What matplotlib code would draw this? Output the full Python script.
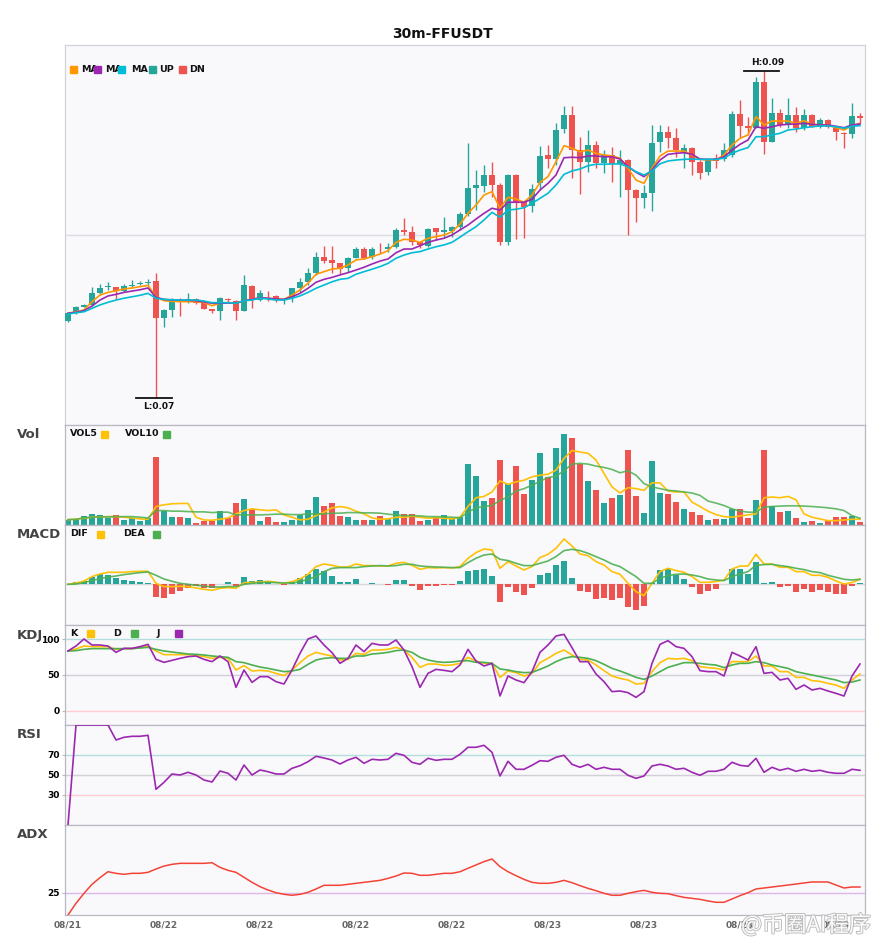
import matplotlib
matplotlib.use("Agg")
import matplotlib.pyplot as plt
import matplotlib.patheffects as pe
from matplotlib.patches import Rectangle
import numpy as np

# ---- data (30m candles) ----
opens = [0.07472, 0.07526, 0.07561, 0.07571, 0.07647, 0.07684, 0.07681, 0.07658, 0.07690, 0.07699,
         0.07707, 0.07718, 0.07493, 0.07540, 0.07604, 0.07601, 0.07605, 0.07585, 0.07544, 0.07536,
         0.07607, 0.07597, 0.07534, 0.07689, 0.07601, 0.07641, 0.07626, 0.07601, 0.07618, 0.07677,
         0.07712, 0.07769, 0.07867, 0.07847, 0.07826, 0.07799, 0.07861, 0.07914, 0.07867, 0.07916,
         0.07914, 0.07928, 0.08031, 0.08020, 0.07955, 0.07934, 0.08041, 0.08021, 0.08025, 0.08051,
         0.08129, 0.08290, 0.08302, 0.08368, 0.08307, 0.07959, 0.08368, 0.08201, 0.08178, 0.08317,
         0.08491, 0.08466, 0.08650, 0.08736, 0.08521, 0.08450, 0.08552, 0.08444, 0.08491, 0.08434,
         0.08460, 0.08276, 0.08229, 0.08260, 0.08572, 0.08632, 0.08593, 0.08511, 0.08532, 0.08450,
         0.08385, 0.08471, 0.08466, 0.08491, 0.08741, 0.08671, 0.08658, 0.08941, 0.08572, 0.08747,
         0.08675, 0.08736, 0.08655, 0.08736, 0.08664, 0.08706, 0.08658, 0.08628, 0.08620, 0.08730]
highs = [0.07529, 0.07566, 0.07574, 0.07681, 0.07699, 0.07712, 0.07684, 0.07699, 0.07727, 0.07720,
         0.07730, 0.07765, 0.07546, 0.07612, 0.07613, 0.07644, 0.07612, 0.07589, 0.07549, 0.07621,
         0.07613, 0.07601, 0.07755, 0.07693, 0.07663, 0.07656, 0.07632, 0.07615, 0.07677, 0.07738,
         0.07796, 0.07898, 0.07933, 0.07933, 0.07831, 0.07867, 0.07928, 0.07928, 0.07928, 0.07949,
         0.07949, 0.08041, 0.08106, 0.08057, 0.07959, 0.08045, 0.08045, 0.08112, 0.08055, 0.08143,
         0.08566, 0.08399, 0.08429, 0.08450, 0.08317, 0.08372, 0.08374, 0.08209, 0.08311, 0.08546,
         0.08552, 0.08685, 0.08791, 0.08791, 0.08603, 0.08644, 0.08577, 0.08521, 0.08542, 0.08521,
         0.08466, 0.08282, 0.08307, 0.08675, 0.08675, 0.08669, 0.08655, 0.08556, 0.08542, 0.08460,
         0.08474, 0.08495, 0.08563, 0.08761, 0.08828, 0.08726, 0.08971, 0.09006, 0.08839, 0.08771,
         0.08842, 0.08787, 0.08773, 0.08742, 0.08716, 0.08710, 0.08664, 0.08632, 0.08808, 0.08747]
lows = [0.07466, 0.07515, 0.07558, 0.07564, 0.07632, 0.07663, 0.07607, 0.07652, 0.07672, 0.07691,
        0.07695, 0.07000, 0.07436, 0.07499, 0.07503, 0.07581, 0.07578, 0.07544, 0.07523, 0.07479,
        0.07581, 0.07479, 0.07531, 0.07550, 0.07595, 0.07595, 0.07591, 0.07578, 0.07591, 0.07652,
        0.07693, 0.07755, 0.07830, 0.07769, 0.07759, 0.07775, 0.07857, 0.07853, 0.07853, 0.07888,
        0.07898, 0.07918, 0.08000, 0.07939, 0.07918, 0.07928, 0.07969, 0.07990, 0.07990, 0.08031,
        0.08117, 0.08153, 0.08266, 0.08235, 0.07939, 0.07939, 0.07975, 0.07982, 0.08143, 0.08276,
        0.08409, 0.08429, 0.08624, 0.08348, 0.08252, 0.08388, 0.08413, 0.08382, 0.08327, 0.08235,
        0.08000, 0.08082, 0.08164, 0.08147, 0.08511, 0.08534, 0.08480, 0.08409, 0.08368, 0.08344,
        0.08368, 0.08409, 0.08454, 0.08480, 0.08603, 0.08614, 0.08655, 0.08495, 0.08569, 0.08663,
        0.08658, 0.08630, 0.08644, 0.08661, 0.08658, 0.08658, 0.08583, 0.08536, 0.08597, 0.08685]
closes = [0.07521, 0.07558, 0.07569, 0.07646, 0.07675, 0.07687, 0.07658, 0.07689, 0.07696, 0.07705,
          0.07713, 0.07493, 0.07540, 0.07591, 0.07598, 0.07607, 0.07585, 0.07548, 0.07532, 0.07613,
          0.07603, 0.07534, 0.07693, 0.07607, 0.07647, 0.07635, 0.07601, 0.07607, 0.07673, 0.07713,
          0.07769, 0.07867, 0.07840, 0.07830, 0.07790, 0.07861, 0.07914, 0.07861, 0.07914, 0.07912,
          0.07928, 0.08031, 0.08020, 0.07955, 0.07939, 0.08037, 0.08020, 0.08028, 0.08051, 0.08129,
          0.08290, 0.08307, 0.08368, 0.08307, 0.07959, 0.08368, 0.08204, 0.08174, 0.08280, 0.08485,
          0.08466, 0.08644, 0.08736, 0.08521, 0.08450, 0.08552, 0.08444, 0.08491, 0.08434, 0.08460,
          0.08276, 0.08229, 0.08256, 0.08563, 0.08634, 0.08597, 0.08521, 0.08536, 0.08450, 0.08379,
          0.08466, 0.08454, 0.08521, 0.08741, 0.08671, 0.08658, 0.08941, 0.08572, 0.08747, 0.08675,
          0.08736, 0.08655, 0.08736, 0.08664, 0.08706, 0.08664, 0.08630, 0.08620, 0.08732, 0.08720]

ma_fast = [0.07520, 0.07529, 0.07540, 0.07591, 0.07632, 0.07648, 0.07658, 0.07669, 0.07675, 0.07683,
           0.07691, 0.07621, 0.07597, 0.07593, 0.07591, 0.07591, 0.07591, 0.07585, 0.07566, 0.07581,
           0.07585, 0.07581, 0.07597, 0.07605, 0.07615, 0.07612, 0.07607, 0.07605, 0.07632, 0.07663,
           0.07704, 0.07759, 0.07775, 0.07791, 0.07796, 0.07816, 0.07847, 0.07853, 0.07867, 0.07883,
           0.07904, 0.07955, 0.07974, 0.07969, 0.07955, 0.07980, 0.07990, 0.08000, 0.08020, 0.08067,
           0.08133, 0.08184, 0.08245, 0.08266, 0.08164, 0.08231, 0.08221, 0.08201, 0.08245, 0.08323,
           0.08358, 0.08450, 0.08548, 0.08532, 0.08511, 0.08521, 0.08501, 0.08491, 0.08485, 0.08471,
           0.08409, 0.08337, 0.08317, 0.08409, 0.08485, 0.08515, 0.08515, 0.08515, 0.08491, 0.08464,
           0.08460, 0.08460, 0.08491, 0.08552, 0.08593, 0.08614, 0.08726, 0.08675, 0.08699, 0.08699,
           0.08699, 0.08685, 0.08701, 0.08679, 0.08675, 0.08675, 0.08658, 0.08644, 0.08671, 0.08685]
ma_mid = [0.07520, 0.07526, 0.07536, 0.07564, 0.07601, 0.07626, 0.07636, 0.07648, 0.07656, 0.07664,
          0.07675, 0.07618, 0.07605, 0.07601, 0.07601, 0.07599, 0.07597, 0.07589, 0.07581, 0.07581,
          0.07583, 0.07581, 0.07597, 0.07605, 0.07615, 0.07612, 0.07607, 0.07605, 0.07621, 0.07642,
          0.07673, 0.07710, 0.07728, 0.07740, 0.07755, 0.07769, 0.07785, 0.07802, 0.07822, 0.07840,
          0.07853, 0.07891, 0.07914, 0.07914, 0.07934, 0.07955, 0.07969, 0.07980, 0.08000, 0.08031,
          0.08061, 0.08098, 0.08133, 0.08164, 0.08153, 0.08201, 0.08201, 0.08201, 0.08219, 0.08276,
          0.08317, 0.08368, 0.08474, 0.08477, 0.08474, 0.08485, 0.08485, 0.08480, 0.08480, 0.08466,
          0.08419, 0.08385, 0.08358, 0.08399, 0.08460, 0.08495, 0.08501, 0.08505, 0.08495, 0.08466,
          0.08464, 0.08464, 0.08480, 0.08521, 0.08556, 0.08583, 0.08664, 0.08655, 0.08664, 0.08675,
          0.08679, 0.08681, 0.08685, 0.08679, 0.08675, 0.08675, 0.08667, 0.08658, 0.08675, 0.08681]
ma_slow = [0.07515, 0.07523, 0.07529, 0.07550, 0.07571, 0.07587, 0.07601, 0.07612, 0.07621, 0.07630,
           0.07642, 0.07612, 0.07605, 0.07603, 0.07601, 0.07601, 0.07601, 0.07595, 0.07585, 0.07585,
           0.07585, 0.07581, 0.07597, 0.07601, 0.07613, 0.07607, 0.07601, 0.07601, 0.07612, 0.07626,
           0.07648, 0.07673, 0.07693, 0.07713, 0.07728, 0.07734, 0.07759, 0.07775, 0.07790, 0.07806,
           0.07826, 0.07857, 0.07877, 0.07891, 0.07898, 0.07914, 0.07928, 0.07939, 0.07955, 0.07987,
           0.08020, 0.08051, 0.08092, 0.08139, 0.08109, 0.08153, 0.08158, 0.08167, 0.08194, 0.08225,
           0.08256, 0.08307, 0.08372, 0.08393, 0.08405, 0.08425, 0.08434, 0.08434, 0.08436, 0.08436,
           0.08419, 0.08388, 0.08368, 0.08393, 0.08437, 0.08454, 0.08460, 0.08464, 0.08466, 0.08464,
           0.08464, 0.08464, 0.08471, 0.08501, 0.08521, 0.08536, 0.08603, 0.08603, 0.08614, 0.08624,
           0.08644, 0.08650, 0.08658, 0.08664, 0.08669, 0.08669, 0.08664, 0.08655, 0.08667, 0.08671]

volume = [5.3, 6.0, 9.3, 11.3, 10.3, 6.7, 10.3, 5.3, 7.0, 3.7,
          6.7, 67.7, 14.3, 8.3, 8.3, 7.3, 1.7, 3.7, 3.7, 14.3,
          7.3, 21.3, 25.3, 16.0, 4.3, 8.3, 3.3, 2.7, 5.0, 10.0,
          15.3, 27.3, 19.3, 21.3, 9.3, 8.3, 5.3, 5.3, 5.3, 9.3,
          6.0, 14.3, 11.3, 11.3, 4.3, 5.3, 7.0, 10.0, 6.0, 8.3,
          60.3, 48.3, 23.3, 26.3, 64.3, 40.3, 58.3, 30.3, 44.3, 71.3,
          47.3, 76.3, 90.3, 86.3, 60.3, 43.3, 34.3, 21.3, 26.3, 29.3,
          74.3, 28.3, 12.3, 63.3, 31.3, 30.3, 22.3, 16.3, 13.3, 10.3,
          5.3, 6.3, 6.3, 16.3, 16.3, 7.3, 24.3, 74.3, 19.3, 13.3,
          14.3, 7.3, 3.3, 4.3, 2.3, 5.3, 8.3, 8.3, 9.3, 3.3]
vol5 = [5.3, 5.7, 6.7, 7.7, 8.0, 8.3, 8.3, 7.7, 7.0, 6.0,
        5.7, 18.3, 20.0, 21.0, 21.3, 21.3, 7.7, 5.0, 4.7, 5.7,
        7.0, 11.0, 14.3, 16.0, 15.0, 14.3, 15.0, 10.0, 7.7, 5.0,
        5.7, 9.3, 12.7, 17.0, 18.3, 17.0, 13.7, 11.0, 7.0, 5.7,
        6.0, 7.7, 7.7, 8.7, 7.7, 6.7, 7.3, 6.7, 6.0, 7.7,
        18.3, 27.0, 28.3, 32.7, 43.7, 40.3, 42.7, 44.3, 47.7, 49.3,
        50.3, 54.3, 66.0, 73.7, 72.3, 71.0, 64.3, 51.0, 37.7, 31.7,
        37.0, 36.0, 34.3, 41.7, 41.7, 33.7, 32.7, 32.7, 22.7, 18.3,
        13.7, 10.3, 8.3, 7.7, 9.0, 10.0, 11.0, 27.0, 27.7, 27.0,
        28.3, 25.0, 11.0, 7.7, 6.0, 4.3, 4.3, 5.0, 5.7, 5.7]
vol10 = [5.3, 5.7, 7.0, 7.7, 8.0, 8.0, 8.3, 8.3, 8.3, 7.7,
         7.0, 14.3, 14.3, 13.7, 13.7, 13.3, 13.0, 13.0, 12.3, 12.7,
         12.7, 10.0, 10.0, 10.0, 10.0, 10.3, 10.7, 10.7, 10.3, 10.3,
         11.0, 11.0, 11.0, 11.7, 11.7, 12.3, 12.3, 12.0, 12.0, 11.7,
         10.7, 10.0, 9.3, 9.3, 9.0, 8.3, 8.3, 8.0, 7.7, 7.3,
         12.7, 17.0, 18.3, 19.3, 24.3, 27.7, 33.7, 36.0, 39.3, 43.3,
         47.0, 48.3, 53.7, 60.3, 61.0, 60.3, 58.3, 57.0, 55.0, 51.7,
         53.7, 49.3, 41.0, 37.7, 36.0, 34.3, 33.7, 32.7, 31.7, 29.3,
         23.7, 21.7, 19.3, 16.0, 13.7, 12.7, 12.7, 17.7, 18.3, 18.7,
         19.0, 19.0, 18.7, 18.3, 17.7, 17.0, 16.0, 14.3, 9.3, 6.7]

macd_hist = [0.3, 2.0, 3.0, 7.3, 10.3, 9.3, 6.3, 4.3, 3.0, 2.0,
             1.3, -12.3, -13.3, -9.3, -6.3, -3.3, -1.7, -4.0, -4.0, 0.0,
             2.3, -1.3, 7.3, 3.0, 4.0, 2.3, 0.3, -1.0, 2.3, 6.7,
             10.3, 15.3, 13.3, 8.3, 2.3, 2.3, 5.3, 0.0, 1.0, 0.0,
             -0.7, 4.3, 4.3, -1.7, -5.7, -1.7, -1.7, -0.7, -0.7, 3.3,
             13.3, 14.3, 15.3, 8.3, -17.3, -2.3, -7.3, -10.3, -3.3, 9.3,
             11.3, 19.3, 23.3, 6.3, -6.3, -7.3, -14.3, -13.3, -15.3, -13.3,
             -22.3, -25.3, -21.3, 1.3, 14.3, 15.3, 9.3, 5.3, -2.3, -9.3,
             -6.3, -4.3, 0.3, 15.3, 15.3, 10.3, 22.3, 1.3, 2.0, -2.3,
             -1.3, -7.3, -4.3, -7.3, -5.3, -7.3, -9.3, -9.3, -1.3, 1.0]
dif = [0.0, 1.3, 3.3, 7.7, 10.3, 12.0, 12.0, 12.0, 12.7, 13.0,
       13.0, 1.0, -2.3, -2.3, -2.0, -2.3, -3.7, -5.0, -6.0, -4.0,
       -3.3, -4.0, 1.7, 1.7, 2.3, 3.0, 2.0, 1.0, 2.7, 5.3,
       10.0, 17.7, 20.3, 19.0, 17.3, 17.3, 20.3, 18.7, 18.7, 18.3,
       18.3, 21.0, 22.0, 19.0, 15.0, 16.7, 16.3, 16.7, 16.3, 17.7,
       26.0, 31.7, 35.3, 34.3, 16.0, 22.7, 18.3, 14.3, 17.7, 26.7,
       30.0, 36.0, 45.3, 38.3, 30.3, 28.7, 22.7, 19.3, 12.7, 10.0,
       1.0, -7.3, -11.3, 1.0, 12.7, 16.0, 13.7, 12.0, 7.7, 2.0,
       2.0, 2.7, 4.3, 15.3, 18.3, 18.3, 30.0, 20.3, 20.3, 17.0,
       17.0, 12.7, 12.7, 9.0, 9.0, 7.0, 3.3, 0.3, 1.7, 5.0]
dea = [0.0, 0.3, 1.7, 3.7, 5.7, 7.3, 8.3, 9.7, 10.7, 11.7,
       12.3, 9.0, 5.3, 3.0, 1.0, 0.0, -1.0, -1.7, -2.7, -2.7,
       -2.3, -2.3, 0.0, 1.0, 1.7, 2.0, 1.7, 1.3, 1.3, 2.7,
       5.0, 7.7, 12.7, 16.0, 16.7, 16.7, 16.7, 17.7, 18.3, 18.7,
       18.3, 18.7, 20.0, 20.0, 18.3, 17.7, 17.3, 17.0, 16.7, 16.7,
       21.7, 26.0, 29.3, 30.3, 25.0, 23.7, 21.0, 18.7, 18.7, 21.0,
       23.3, 27.7, 33.7, 35.0, 33.7, 31.0, 27.7, 24.3, 20.3, 17.7,
       12.7, 7.7, 1.0, 1.0, 6.0, 8.7, 10.0, 10.3, 9.3, 7.7,
       5.3, 4.3, 3.7, 7.7, 10.3, 12.7, 19.0, 19.7, 20.0, 18.7,
       17.7, 16.0, 14.7, 12.7, 11.7, 9.0, 7.0, 5.0, 4.3, 5.0]

kdj_k = [83.6, 86.4, 90.6, 89.7, 89.7, 89.7, 85.9, 86.9, 86.9, 88.3,
         90.6, 83.6, 78.5, 78.5, 78.5, 78.5, 77.5, 75.7, 73.3, 74.7,
         73.3, 57.0, 63.1, 55.6, 56.5, 55.6, 52.3, 49.1, 57.0, 67.3,
         76.6, 81.7, 78.9, 76.6, 71.0, 71.9, 80.3, 78.9, 85.0, 85.0,
         85.9, 88.7, 85.0, 74.7, 60.7, 65.4, 65.4, 63.5, 64.0, 66.3,
         74.7, 69.6, 66.3, 66.3, 46.7, 55.6, 53.3, 48.6, 52.3, 67.3,
         73.3, 80.3, 85.0, 78.0, 71.9, 71.0, 64.0, 56.1, 48.6, 45.3,
         43.0, 37.4, 38.3, 54.7, 67.3, 73.3, 72.4, 73.3, 70.1, 61.7,
         60.3, 59.3, 57.0, 68.7, 68.7, 68.7, 76.6, 62.6, 62.6, 54.7,
         54.7, 46.7, 46.7, 42.1, 41.1, 38.3, 36.0, 31.3, 43.0, 51.4]
kdj_d = [83.6, 84.1, 85.9, 86.9, 86.9, 86.9, 86.9, 86.9, 86.9, 87.8,
         88.7, 85.9, 83.6, 82.2, 80.8, 79.4, 78.9, 78.0, 76.6, 75.7,
         74.7, 68.7, 67.3, 64.0, 61.2, 59.3, 57.0, 54.7, 55.6, 57.9,
         64.9, 71.0, 73.3, 74.3, 73.3, 73.3, 76.6, 76.6, 79.4, 80.3,
         81.7, 84.1, 85.0, 81.7, 74.7, 71.0, 68.7, 67.7, 68.2, 69.6,
         70.1, 67.7, 67.7, 66.3, 58.4, 57.0, 54.7, 53.3, 53.7, 57.9,
         62.6, 68.7, 73.3, 75.7, 74.7, 73.3, 70.1, 64.9, 59.3, 55.6,
         51.4, 46.7, 43.9, 48.6, 54.7, 60.7, 64.0, 67.3, 67.3, 66.3,
         64.9, 64.0, 60.3, 64.0, 66.3, 66.3, 68.7, 67.3, 64.0, 61.7,
         59.3, 54.7, 52.3, 50.0, 47.7, 45.3, 43.0, 39.3, 40.2, 43.0]
kdj_j = [83.6, 90.6, 100.4, 92.0, 92.0, 90.6, 81.7, 87.3, 87.3, 89.7,
         92.9, 71.9, 67.7, 70.5, 73.3, 75.7, 76.6, 71.9, 68.7, 76.6,
         68.7, 32.7, 57.0, 39.7, 47.7, 47.7, 40.7, 37.4, 57.0, 80.3,
         100.4, 104.6, 92.0, 81.3, 66.3, 73.3, 92.0, 82.7, 94.3, 92.0,
         92.0, 99.0, 85.0, 61.7, 32.7, 52.3, 57.9, 56.5, 54.7, 64.0,
         85.9, 69.6, 62.6, 66.3, 20.6, 48.6, 43.0, 39.3, 54.7, 81.7,
         92.0, 104.6, 106.9, 88.3, 68.7, 68.7, 51.4, 40.7, 26.7, 27.6,
         25.3, 18.7, 26.7, 66.3, 92.9, 98.1, 89.7, 87.3, 75.7, 56.1,
         54.7, 54.7, 48.6, 81.7, 76.6, 71.0, 89.7, 52.3, 53.7, 43.0,
         45.3, 29.9, 36.0, 29.0, 31.3, 27.6, 24.3, 20.6, 48.6, 65.4]

rsi = [0.0, 100.0, 100.0, 100.0, 100.0, 100.0, 85.0, 87.7, 88.7, 88.7,
       89.7, 35.7, 42.7, 51.0, 50.0, 52.7, 50.0, 45.0, 43.0, 54.0,
       51.7, 45.0, 60.0, 50.0, 55.0, 53.3, 51.0, 51.0, 56.7, 59.3,
       63.3, 68.7, 67.0, 65.0, 61.0, 65.0, 67.7, 61.7, 65.7, 65.0,
       65.7, 71.7, 69.7, 62.7, 60.7, 66.7, 64.7, 65.7, 65.7, 70.7,
       77.7, 77.7, 79.7, 72.7, 49.0, 63.7, 55.7, 55.7, 59.7, 64.3,
       63.7, 67.7, 69.7, 60.7, 57.7, 60.7, 55.7, 57.7, 55.7, 55.7,
       49.7, 46.7, 49.0, 59.0, 60.7, 59.0, 55.7, 56.7, 52.7, 49.7,
       53.7, 53.7, 55.7, 62.7, 59.7, 58.7, 66.7, 52.7, 57.7, 54.7,
       56.7, 53.7, 55.7, 53.7, 54.7, 52.7, 51.7, 51.7, 55.7, 54.7]

adx = [0.0, 13.0, 24.1, 34.1, 41.5, 48.1, 46.3, 45.2, 46.3, 46.3,
       47.4, 51.1, 54.4, 56.3, 57.4, 57.4, 57.4, 57.4, 58.1, 52.9,
       49.6, 47.4, 41.9, 36.3, 31.5, 27.8, 24.8, 23.0, 21.9, 23.0,
       25.2, 28.9, 33.0, 33.0, 33.0, 34.1, 35.2, 36.3, 37.4, 38.5,
       40.7, 43.3, 46.7, 46.3, 44.1, 44.1, 45.2, 46.3, 46.3, 48.1,
       51.9, 55.6, 59.3, 62.2, 53.7, 48.1, 43.7, 39.6, 36.3, 35.2,
       35.2, 36.3, 38.5, 35.9, 32.6, 29.6, 27.0, 24.1, 21.9, 21.9,
       24.1, 25.9, 27.4, 25.2, 24.1, 23.7, 21.5, 19.6, 18.5, 17.4,
       15.6, 14.1, 14.1, 17.8, 21.5, 24.8, 28.9, 30.0, 31.1, 32.2,
       33.3, 34.4, 35.6, 36.7, 36.7, 36.7, 33.3, 30.0, 31.1, 31.1]

tick_pos = [0, 12, 24, 36, 48, 60, 72, 84, 96]
tick_labels = ["08/21", "08/22", "08/22", "08/22", "08/22", "08/23", "08/23", "08/23", "08/23"]

# ---- colours ----
UP = "#26a69a"
DN = "#ef5350"
BG = "#f9f9fc"
SPINE = "#b8b8c2"

W, H = 885, 950
fig = plt.figure(figsize=(W / 100, H / 100), dpi=100)
fig.patch.set_facecolor("white")


def px_axes(top, bottom, left=65, right=865):
    return fig.add_axes([left / W, 1 - bottom / H, (right - left) / W, (bottom - top) / H])


def fig_square(x, y, color, size=7):
    fig.patches.append(Rectangle((x / W, 1 - (y + size / 2) / H), size / W, size / H,
                                 transform=fig.transFigure, color=color, zorder=5))


def fig_label(x, y, s, size=6.8, color="#111111"):
    fig.text(x / W, 1 - y / H, s, fontsize=size, fontweight="bold", color=color,
             va="center", ha="left")


x = np.arange(len(closes))
o = np.array(opens)
c = np.array(closes)
is_up = c >= o
colors = [UP if u else DN for u in is_up]
XLIM = (-0.375, 99.625)

ax_main = px_axes(45, 425)
ax_vol = px_axes(425, 525)
ax_macd = px_axes(525, 625)
ax_kdj = px_axes(625, 725)
ax_rsi = px_axes(725, 825)
ax_adx = px_axes(825, 915)
panels = [ax_main, ax_vol, ax_macd, ax_kdj, ax_rsi, ax_adx]

for ax in panels:
    ax.set_facecolor(BG)
    ax.set_xlim(*XLIM)
    for s in ax.spines.values():
        s.set_color(SPINE)
        s.set_linewidth(0.9)
    ax.tick_params(axis="x", length=0, labelbottom=False)
    ax.tick_params(axis="y", length=2, color=SPINE, labelsize=6.5, pad=2)

# ---- main candle panel ----
for s in ax_main.spines.values():
    s.set_color("#d2d2da")
ax_main.axhline(0.08, color="#dcdce3", lw=1, zorder=0)
ax_main.vlines(x, lows, highs, colors=colors, lw=1, zorder=2)
body = np.maximum(np.abs(c - o), 0.00003)
ax_main.bar(x, body, bottom=np.minimum(o, c), width=0.72, color=colors, zorder=3)
ax_main.plot(x, ma_fast, color="#ff9800", lw=1.2, zorder=4)
ax_main.plot(x, ma_mid, color="#9c27b0", lw=1.2, zorder=4)
ax_main.plot(x, ma_slow, color="#00bcd4", lw=1.2, zorder=4)
ax_main.set_ylim(0.068344, 0.091656)
ax_main.set_yticks([])

hi_i = int(np.argmax(highs))
lo_i = int(np.argmin(lows))
ax_main.plot([hi_i - 2.5, hi_i + 1.9], [highs[hi_i]] * 2, color="#111111", lw=1.3, zorder=5)
ax_main.text(hi_i + 0.5, highs[hi_i] + 0.00022, f"H:{highs[hi_i]:.2f}", fontsize=6.5,
             fontweight="bold", ha="center", va="bottom", color="#111111")
ax_main.plot([lo_i - 2.5, lo_i + 2.0], [lows[lo_i]] * 2, color="#111111", lw=1.3, zorder=5)
ax_main.text(lo_i + 0.3, lows[lo_i] - 0.00022, f"L:{lows[lo_i]:.2f}", fontsize=6.5,
             fontweight="bold", ha="center", va="top", color="#111111")

fig.text(0.5, 1 - 34 / H, "30m-FFUSDT", ha="center", va="center", fontsize=10,
         fontweight="bold", color="#111111")

# main legend (labels partly hidden under the next swatch, as in the source)
for tx, lab in [(81, "MA"), (105, "MA"), (131, "MA"), (159, "UP"), (189, "DN")]:
    fig_label(tx, 69, lab)
for sx, col in [(70, "#ff9800"), (94, "#9c27b0"), (118, "#00bcd4"), (149, UP), (179, DN)]:
    fig_square(sx, 69, col)

# ---- volume ----
ax_vol.bar(x, volume, width=0.75, color=colors, zorder=2)
ax_vol.plot(x, vol5, color="#ffc107", lw=1.2, zorder=3)
ax_vol.plot(x, vol10, color="#4caf50", lw=1.2, alpha=0.85, zorder=3)
ax_vol.set_ylim(0, 99)
ax_vol.set_yticks([])
fig_label(70, 434, "VOL5")
fig_square(101, 434, "#ffc107")
fig_label(125, 434, "VOL10")
fig_square(163, 434, "#4caf50")

# ---- MACD ----
hcol = [UP if v >= 0 else DN for v in macd_hist]
ax_macd.axhline(0, color="#d6d6dc", lw=1, zorder=1)
ax_macd.bar(x, macd_hist, width=0.75, color=hcol, zorder=2)
ax_macd.plot(x, dif, color="#ffc107", lw=1.2, zorder=3)
ax_macd.plot(x, dea, color="#4caf50", lw=1.2, alpha=0.9, zorder=3)
ax_macd.set_ylim(-40.7, 59.3)
ax_macd.set_yticks([])
fig_label(70, 534, "DIF")
fig_square(97, 534, "#ffc107")
fig_label(123, 534, "DEA")
fig_square(153, 534, "#4caf50")

# ---- KDJ ----
ax_kdj.axhline(100, color="#b2dfdb", lw=1, zorder=1)
ax_kdj.axhline(50, color="#d0d0d6", lw=1, zorder=1)
ax_kdj.axhline(0, color="#ffcdd2", lw=1, zorder=1)
ax_kdj.plot(x, kdj_k, color="#ffc107", lw=1.2, zorder=3)
ax_kdj.plot(x, kdj_d, color="#4caf50", lw=1.2, zorder=3)
ax_kdj.plot(x, kdj_j, color="#9c27b0", lw=1.2, zorder=3)
ax_kdj.set_ylim(-20, 120)
ax_kdj.set_yticks([0, 50, 100])
fig_label(70, 633, "K")
fig_square(87, 633, "#ffc107")
fig_label(113, 633, "D")
fig_square(131, 633, "#4caf50")
fig_label(157, 633, "J")
fig_square(175, 633, "#9c27b0")

# ---- RSI ----
ax_rsi.axhline(70, color="#b2dfdb", lw=1, zorder=1)
ax_rsi.axhline(50, color="#d0d0d6", lw=1, zorder=1)
ax_rsi.axhline(30, color="#ffcdd2", lw=1, zorder=1)
ax_rsi.plot(x, rsi, color="#9c27b0", lw=1.2, zorder=3)
ax_rsi.set_ylim(0, 100)
ax_rsi.set_yticks([30, 50, 70])

# ---- ADX ----
ax_adx.axhline(25, color="#dcb8e4", lw=1, zorder=1)
ax_adx.plot(x, adx, color="#f44336", lw=1.1, zorder=3)
ax_adx.set_ylim(0, 100)
ax_adx.set_yticks([25])
ax_adx.set_xticks(tick_pos)
ax_adx.set_xticklabels(tick_labels)
ax_adx.tick_params(axis="x", labelbottom=True, labelsize=6.5, labelcolor="#666666", pad=4)
for t in ax_adx.get_xticklabels():
    t.set_fontweight("bold")

for ax in [ax_kdj, ax_rsi, ax_adx]:
    for t in ax.get_yticklabels():
        t.set_fontweight("bold")

# panel titles
for lab, y in [("Vol", 435), ("MACD", 535), ("KDJ", 635), ("RSI", 735), ("ADX", 835)]:
    fig.text(17 / W, 1 - y / H, lab, fontsize=9.5, fontweight="bold", color="#444444",
             va="center", ha="left")

# watermark (outlined, light, over the bottom-right corner like the source)
fig.text(806 / W, 1 - 925 / H, "@币圈AI程序", fontsize=16, color="white", alpha=0.95,
         ha="center", va="center", family=["Noto Sans CJK SC", "DejaVu Sans"], zorder=10,
         path_effects=[pe.withStroke(linewidth=1.3, foreground="#b8b8b8")])

fig.savefig("out.png", dpi=100, facecolor="white")
